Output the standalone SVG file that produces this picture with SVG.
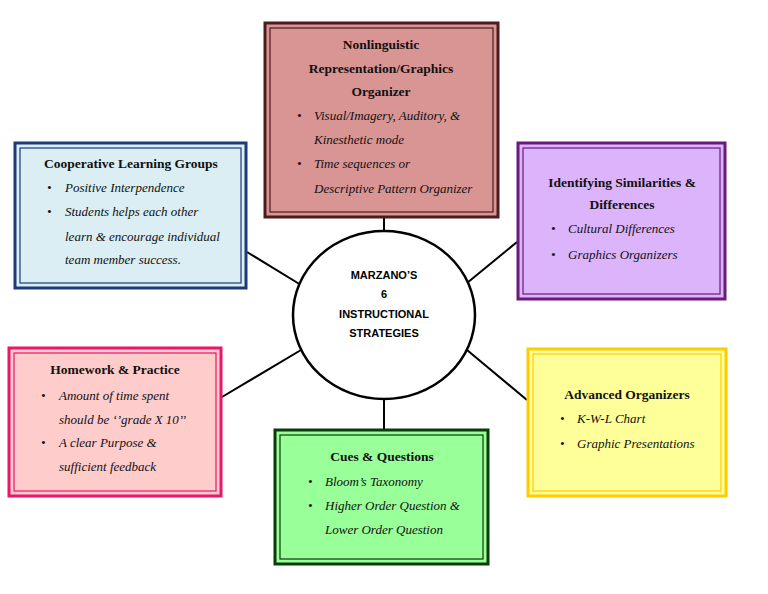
<svg xmlns="http://www.w3.org/2000/svg" width="768" height="594" viewBox="0 0 768 594">
<style>
.t{font-family:"Liberation Serif",serif;font-weight:bold;font-size:13.5px;fill:#111;text-anchor:middle}
.b{font-family:"Liberation Serif",serif;font-style:italic;font-size:13px;fill:#111}
.c{font-family:"Liberation Sans",Arial,sans-serif;font-weight:bold;font-size:11px;fill:#000;text-anchor:middle}
.in{fill:none;stroke-width:1.2}
line{stroke:#000;stroke-width:2}
</style>
<rect width="768" height="594" fill="#fff"/>
<g id="connectors">
<line x1="384" y1="218" x2="384" y2="231"/>
<line x1="384" y1="399" x2="384" y2="429"/>
<line x1="247" y1="252" x2="301" y2="285"/>
<line x1="517" y1="242" x2="467" y2="283"/>
<line x1="222" y1="397" x2="301" y2="350"/>
<line x1="527" y1="400" x2="467" y2="350"/>
</g>
<g id="center">
<ellipse cx="384" cy="315" rx="91" ry="84" fill="#fff" stroke="#000" stroke-width="2.5"/>
<text class="c" x="384" y="279">MARZANO’S</text>
<text class="c" x="384" y="298">6</text>
<text class="c" x="384" y="318">INSTRUCTIONAL</text>
<text class="c" x="384" y="337">STRATEGIES</text>
</g>
<g id="nonlinguistic">
<rect x="265" y="23" width="233" height="194" fill="#d99594" stroke="#4a1c1c" stroke-width="3"/>
<rect x="270" y="28" width="223" height="184" class="in" stroke="#4a1c1c"/>
<text class="t" x="381" y="49">Nonlinguistic</text>
<text class="t" x="381" y="73">Representation/Graphics</text>
<text class="t" x="381" y="96">Organizer</text>
<text class="b" x="297" y="120">•</text><text class="b" x="314" y="120">Visual/Imagery, Auditory, &amp;</text>
<text class="b" x="314" y="144">Kinesthetic mode</text>
<text class="b" x="297" y="168">•</text><text class="b" x="314" y="168">Time sequences or</text>
<text class="b" x="314" y="193">Descriptive Pattern Organizer</text>
</g>
<g id="cooperative">
<rect x="15" y="143" width="231" height="145" fill="#daeef3" stroke="#1f3a78" stroke-width="3"/>
<rect x="20" y="148" width="221" height="135" class="in" stroke="#1f3a78"/>
<text class="t" x="131" y="168">Cooperative Learning Groups</text>
<text class="b" x="47" y="192">•</text><text class="b" x="65" y="192">Positive Interpendence</text>
<text class="b" x="47" y="216">•</text><text class="b" x="65" y="216">Students helps each other</text>
<text class="b" x="65" y="241">learn &amp; encourage individual</text>
<text class="b" x="65" y="264">team member success.</text>
</g>
<g id="similarities">
<rect x="518" y="143" width="207" height="156" fill="#dcb4fc" stroke="#6a1a78" stroke-width="3"/>
<rect x="523" y="148" width="197" height="146" class="in" stroke="#6a1a78"/>
<text class="t" x="622" y="187">Identifying Similarities &amp;</text>
<text class="t" x="622" y="209">Differences</text>
<text class="b" x="551" y="233">•</text><text class="b" x="568" y="233">Cultural Differences</text>
<text class="b" x="551" y="259">•</text><text class="b" x="568" y="259">Graphics Organizers</text>
</g>
<g id="homework">
<rect x="9" y="348" width="212" height="148" fill="#ffcccc" stroke="#e8176b" stroke-width="3"/>
<rect x="14" y="353" width="202" height="138" class="in" stroke="#e8176b"/>
<text class="t" x="115" y="374">Homework &amp; Practice</text>
<text class="b" x="41" y="400">•</text><text class="b" x="59" y="400">Amount of time spent</text>
<text class="b" x="59" y="424">should be ‘’grade X 10’’</text>
<text class="b" x="41" y="447">•</text><text class="b" x="59" y="447">A clear Purpose &amp;</text>
<text class="b" x="59" y="471">sufficient feedback</text>
</g>
<g id="cues">
<rect x="275" y="430" width="213" height="134" fill="#99ff99" stroke="#0b3a0b" stroke-width="3"/>
<rect x="280" y="435" width="203" height="124" class="in" stroke="#0b3a0b"/>
<text class="t" x="382" y="461">Cues &amp; Questions</text>
<text class="b" x="308" y="486">•</text><text class="b" x="325" y="486">Bloom’s Taxonomy</text>
<text class="b" x="308" y="510">•</text><text class="b" x="325" y="510">Higher Order Question &amp;</text>
<text class="b" x="325" y="534">Lower Order Question</text>
</g>
<g id="advanced">
<rect x="528" y="349" width="198" height="147" fill="#ffff99" stroke="#ffcc00" stroke-width="3"/>
<rect x="533" y="354" width="188" height="137" class="in" stroke="#ffcc00"/>
<text class="t" x="627" y="399">Advanced Organizers</text>
<text class="b" x="560" y="423">•</text><text class="b" x="577" y="423">K-W-L Chart</text>
<text class="b" x="560" y="448">•</text><text class="b" x="577" y="448">Graphic Presentations</text>
</g>
</svg>
